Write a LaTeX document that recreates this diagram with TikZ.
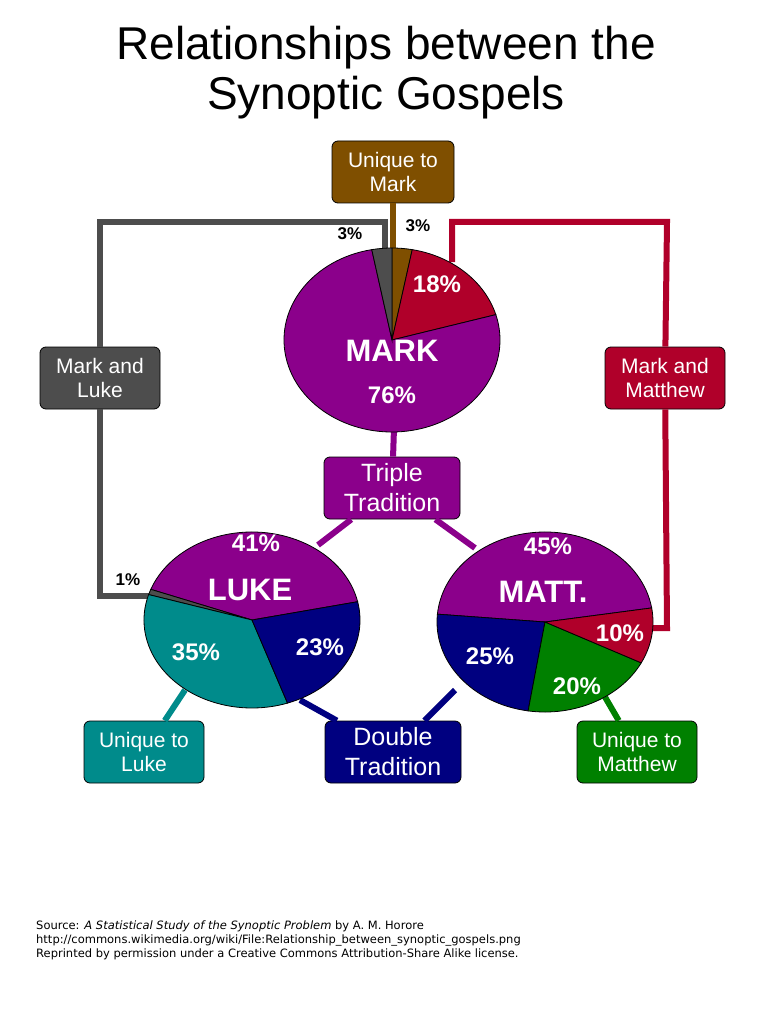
\documentclass[tikz,border=0pt]{standalone}
\usepackage{fontspec}
\setmainfont{Liberation Sans}
\newfontfamily\footfont{DejaVu Sans}
\begin{document}
\begin{tikzpicture}[x=1pt,y=1pt,
 box/.style={draw=black,line width=0.8pt,rounded corners=6pt,minimum width=120pt,minimum height=62pt,text=white,font=\fontsize{21}{24}\selectfont,align=center,inner sep=2pt},
 lbl/.style={text=white,font=\bfseries\fontsize{24}{26}\selectfont},
 big/.style={text=white,font=\bfseries\fontsize{31}{33}\selectfont},
 blk/.style={text=black,font=\bfseries\fontsize{17}{19}\selectfont},
 con/.style={line width=6pt}]
\definecolor{cbrown}{HTML}{7F4F00}
\definecolor{cgray}{HTML}{4D4D4D}
\definecolor{cred}{HTML}{B0002A}
\definecolor{cpur}{HTML}{8B008B}
\definecolor{cteal}{HTML}{008B8B}
\definecolor{cnavy}{HTML}{000080}
\definecolor{cgreen}{HTML}{008000}
\useasboundingbox[fill=white] (0,0) rectangle (768,-1024);
\node[font=\fontsize{46}{50}\selectfont,align=center] (title) at (386,-73) {Relationships between the\\Synoptic Gospels};
% boxes
\node[box,fill=cbrown,minimum width=122pt] (um) at (393,-172) {Unique to\\Mark};
\node[box,fill=cgray] (ml) at (100,-378) {Mark and\\Luke};
\node[box,fill=cred] (mm) at (665,-378) {Mark and\\Matthew};
\node[box,fill=cpur,minimum width=136pt,font=\fontsize{25}{30}\selectfont] (tt) at (392,-488) {Triple\\Tradition};
\node[box,fill=cteal] (ul) at (144,-752) {Unique to\\Luke};
\node[box,fill=cnavy,minimum width=136pt,font=\fontsize{25}{30}\selectfont] (dt) at (393,-752) {Double\\Tradition};
\node[box,fill=cgreen] (umt) at (637,-752) {Unique to\\Matthew};
% coordinates
\coordinate (mgray) at (385,-260);
\coordinate (g1) at (385,-222); \coordinate (g2) at (100,-222);
\coordinate (g3) at (100,-596); \coordinate (lgray) at (150,-596);
\coordinate (mred) at (452,-262);
\coordinate (r1) at (452,-222); \coordinate (r2) at (667,-222);
\coordinate (r3) at (667,-628); \coordinate (mtred) at (645,-628);
\coordinate (mbot) at (394,-428);
\coordinate (ltop) at (318,-545); \coordinate (mttop) at (475,-548);
\coordinate (lbot) at (300,-700); \coordinate (mtbot) at (455,-690);
\coordinate (lteal) at (185,-690); \coordinate (mtgreen) at (605,-697);
\coordinate (mtop) at (393,-250);
% connectors
\draw[con,cgray] (mgray) -- (g1) -- (g2) -- (ml);
\draw[con,cgray] (ml) -- (g3) -- (lgray);
\draw[con,cred] (mred) -- (r1) -- (r2) -- (mm);
\draw[con,cred] (mm) -- (r3) -- (mtred);
\draw[con,cbrown] (um) -- (mtop);
\draw[con,cpur] (mbot) -- (tt);
\draw[con,cpur] (tt) -- (ltop);
\draw[con,cpur] (tt) -- (mttop);
\draw[con,cnavy] (dt) -- (lbot);
\draw[con,cnavy] (dt) -- (mtbot);
\draw[con,cteal] (ul) -- (lteal);
\draw[con,cgreen] (umt) -- (mtgreen);
% pie macro
\newcommand{\myslice}[7]{\filldraw[fill=#1,draw=black,line width=0.8pt] (#2,#3) -- ++(#4:#6 and #7) arc[start angle=#4,end angle=#5,x radius=#6,y radius=#7] -- cycle;}
% Mark
\myslice{cbrown}{392}{-340}{79.2}{90}{108}{92}
\myslice{cred}{392}{-340}{16}{79.2}{108}{92}
\myslice{cpur}{392}{-340}{-259.2}{16}{108}{92}
\myslice{cgray}{392}{-340}{90}{100.8}{108}{92}
% Luke
\myslice{cpur}{252}{-620}{12}{159.6}{108}{88}
\myslice{cgray}{252}{-620}{159.6}{163.2}{108}{88}
\myslice{cteal}{252}{-620}{163.2}{289.2}{108}{88}
\myslice{cnavy}{252}{-620}{289.2}{372}{108}{88}
% Matthew
\myslice{cpur}{545}{-622}{9}{175}{108}{90}
\myslice{cnavy}{545}{-622}{175}{261}{108}{90}
\myslice{cgreen}{545}{-622}{261}{333}{108}{90}
\myslice{cred}{545}{-622}{333}{369}{108}{90}
% labels
\node[blk] (p1) at (350,-234) {3\%};
\node[blk] (p2) at (418,-226) {3\%};
\node[lbl] (p3) at (437,-284) {18\%};
\node[big] (p4) at (392,-351) {MARK};
\node[lbl] (p5) at (392,-395) {76\%};
\node[lbl] (p6) at (256,-543) {41\%};
\node[big] (p7) at (250,-590) {LUKE};
\node[lbl] (p8) at (196,-652) {35\%};
\node[lbl] (p9) at (320,-647) {23\%};
\node[blk] (p10) at (128,-580) {1\%};
\node[lbl] (p11) at (548,-546) {45\%};
\node[big] (p12) at (543,-592) {MATT.};
\node[lbl] (p13) at (490,-656) {25\%};
\node[lbl] (p14) at (577,-686) {20\%};
\node[lbl] (p15) at (620,-633) {10\%};
% footer
\node[anchor=north west,align=left,font=\footfont\fontsize{11.5}{14}\selectfont,inner sep=0pt] (foot) at (36,-921) {Source: \textit{A Statistical Study of the Synoptic Problem} by A. M. Horore\\http://commons.wikimedia.org/wiki/File:Relationship\_between\_synoptic\_gospels.png\\Reprinted by permission under a Creative Commons Attribution-Share Alike license.};
\end{tikzpicture}
\end{document}
